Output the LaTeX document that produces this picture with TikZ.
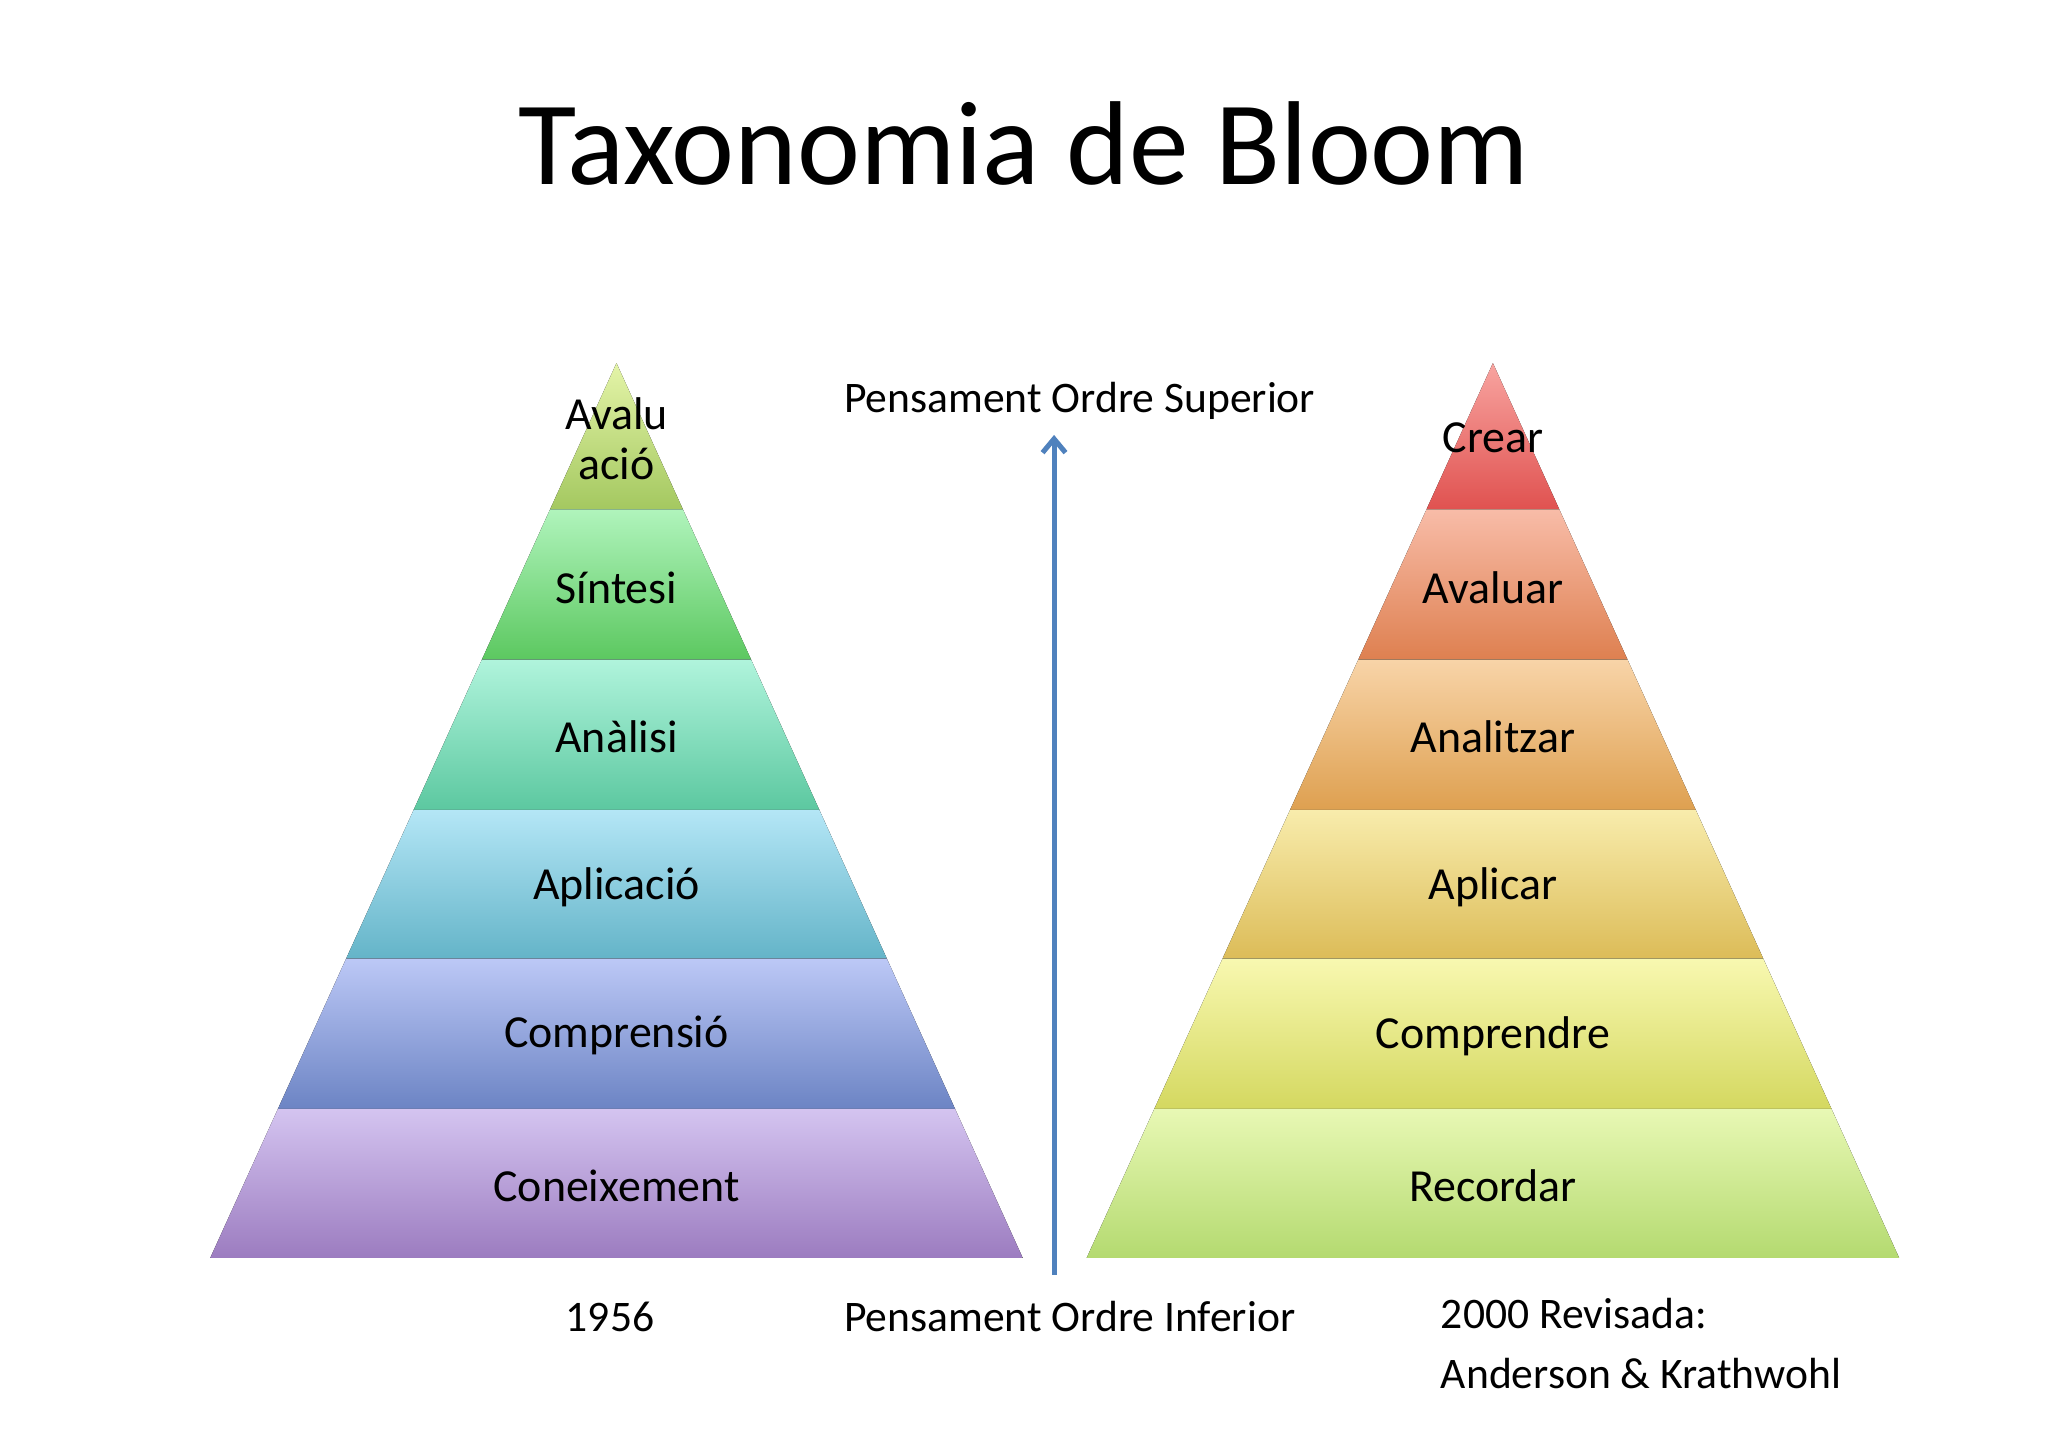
\documentclass[tikz,border=0pt]{standalone}
\usepackage{fontspec}
\setmainfont{Carlito}
\usetikzlibrary{arrows.meta}
\begin{document}
\begin{tikzpicture}[x=0.02cm,y=-0.02cm,
  lbl/.style={font=\fontsize{20}{23}\selectfont,align=center,text=black},
  small/.style={font=\fontsize{19}{26}\selectfont,align=left,anchor=west}]
\useasboundingbox (0,0) rectangle (1568,1108);
\fill[white] (0,0) rectangle (1568,1108);
\node[font=\fontsize{52}{60}\selectfont] (title) at (784,110) {Taxonomia de Bloom};
\def\sl{0.454}
% left pyramid apex 472
\newcommand{\lvl}[6]{% cx, ytop, ybot, topcol, botcol, label
  \pgfmathsetmacro\wt{(#2-278)*\sl}\pgfmathsetmacro\wb{(#3-278)*\sl}
  \fill[top color=#4,bottom color=#5] (#1-\wt,#2) -- (#1+\wt,#2) -- (#1+\wb,#3) -- (#1-\wb,#3) -- cycle;}
\definecolor{a1}{HTML}{E4F4A8}\definecolor{a2}{HTML}{A4C860}
\definecolor{b1}{HTML}{B0F4BC}\definecolor{b2}{HTML}{5CC860}
\definecolor{c1}{HTML}{B0F4DC}\definecolor{c2}{HTML}{5CC8A0}
\definecolor{d1}{HTML}{B4E6F6}\definecolor{d2}{HTML}{64B4C8}
\definecolor{e1}{HTML}{BCC8F6}\definecolor{e2}{HTML}{6C84C4}
\definecolor{f1}{HTML}{D4C4F0}\definecolor{f2}{HTML}{9C7CC0}
\definecolor{g1}{HTML}{F8A4A0}\definecolor{g2}{HTML}{E05250}
\definecolor{h1}{HTML}{F8BCA8}\definecolor{h2}{HTML}{DE8050}
\definecolor{i1}{HTML}{F8D4A8}\definecolor{i2}{HTML}{DEA050}
\definecolor{j1}{HTML}{F8ECAC}\definecolor{j2}{HTML}{DCBC58}
\definecolor{k1}{HTML}{F8F8B0}\definecolor{k2}{HTML}{D4D860}
\definecolor{l1}{HTML}{E8F8B4}\definecolor{l2}{HTML}{B4DA70}
\lvl{472}{278}{390}{a1}{a2}{}
\lvl{472}{390}{505}{b1}{b2}{}
\lvl{472}{505}{620}{c1}{c2}{}
\lvl{472}{620}{734}{d1}{d2}{}
\lvl{472}{734}{849}{e1}{e2}{}
\lvl{472}{849}{963}{f1}{f2}{}
\lvl{1143}{278}{390}{g1}{g2}{}
\lvl{1143}{390}{505}{h1}{h2}{}
\lvl{1143}{505}{620}{i1}{i2}{}
\lvl{1143}{620}{734}{j1}{j2}{}
\lvl{1143}{734}{849}{k1}{k2}{}
\lvl{1143}{849}{963}{l1}{l2}{}
\node[lbl,font=\fontsize{20}{22}\selectfont] (l1) at (472,336) {Avalu\\ació};
\node[lbl] (l2) at (472,450) {Síntesi};
\node[lbl] (l3) at (472,564) {Anàlisi};
\node[lbl] (l4) at (472,679) {Aplicació};
\node[lbl] (l5) at (472,793) {Comprensió};
\node[lbl] (l6) at (472,908) {Coneixement};
\node[lbl] (r1) at (1143,335) {Crear};
\node[lbl] (r2) at (1143,450) {Avaluar};
\node[lbl] (r3) at (1143,564) {Analitzar};
\node[lbl] (r4) at (1143,679) {Aplicar};
\node[lbl] (r5) at (1143,793) {Comprendre};
\node[lbl] (r6) at (1143,908) {Recordar};
\coordinate (abot) at (807,976);
\coordinate (atop) at (807,333);
\draw[color={rgb,255:red,79;green,129;blue,189},line width=2.2pt,-{Straight Barb[length=6pt,width=10pt]}] (abot) -- (atop);
\node[small] (sup) at (640,307) {Pensament Ordre Superior};
\node[small] (inf) at (640,1008) {Pensament Ordre Inferior};
\node[small] (y56) at (427,1008) {1956};
\node[small,anchor=north west] (rev) at (1097,988) {2000 Revisada:\\Anderson \& Krathwohl};
\end{tikzpicture}
\end{document}
